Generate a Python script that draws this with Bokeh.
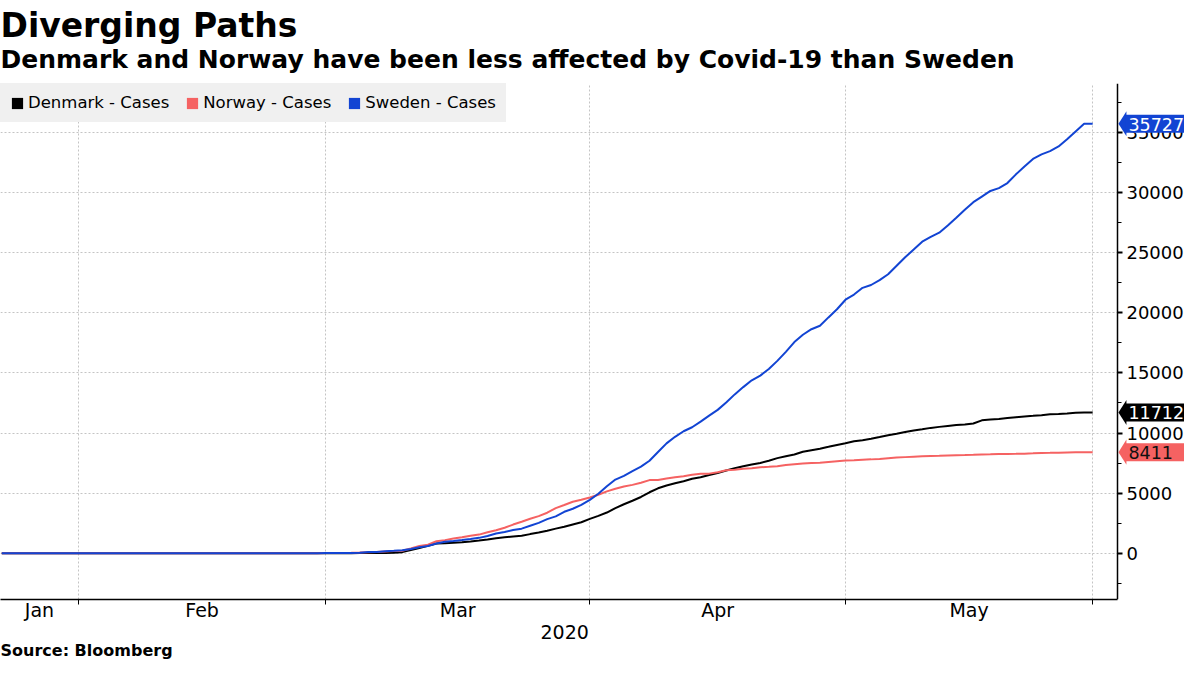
import pandas as pd
from bokeh.plotting import figure
from bokeh.models import (Range1d, FixedTicker, SingleIntervalTicker, Legend, LegendItem,
                          Label, Title, ColumnDataSource, DatetimeTickFormatter,
                          BasicTickFormatter, PolyAnnotation, BoxAnnotation)
from bokeh.embed import file_html
from bokeh.resources import INLINE

# ---------------- data (daily cumulative cases, 2020-01-23 .. 2020-05-30) -------------
start_date = "2020-01-23"
end_date = "2020-05-30"

denmark = [
    0, 0, 0, 0, 0, 0, 0, 0, 0,
    0, 0, 0, 0, 0, 0, 0, 0, 0, 0, 0, 0, 0, 0, 0, 0, 0, 0, 0, 0, 0, 0, 0, 0, 0, 0, 0, 1, 1,
    1, 3, 4, 4, 10, 10, 23, 23, 35, 90, 262, 442, 615, 801, 827, 864, 914, 977, 1057, 1151,
    1255, 1326, 1395, 1450, 1591, 1724, 1877, 2046, 2201, 2395, 2577,
    2860, 3107, 3386, 3757, 4077, 4369, 4681, 5071, 5402, 5635, 5819, 5996, 6191, 6318, 6511,
    6681, 6879, 7073, 7242, 7384, 7515, 7695, 7912, 8073, 8210, 8445, 8575, 8698, 8851, 9008,
    9158, 9311, 9407, 9523, 9670, 9820, 9938, 10083, 10218, 10319, 10429, 10513, 10591, 10667,
    10713, 10791, 11058, 11127, 11168, 11244, 11317, 11382, 11430, 11489, 11560, 11587, 11628,
    11680, 11712, 11712,
]
norway = [
    0, 0, 0, 0, 0, 0, 0, 0, 0,
    0, 0, 0, 0, 0, 0, 0, 0, 0, 0, 0, 0, 0, 0, 0, 0, 0, 0, 0, 0, 0, 0, 0, 0, 0, 0, 1, 1, 6,
    15, 19, 25, 32, 56, 87, 108, 147, 176, 205, 400, 598, 702, 996, 1090, 1221, 1333, 1463,
    1550, 1746, 1914, 2118, 2385, 2621, 2863, 3084, 3369, 3755, 4015, 4284, 4445,
    4641, 4863, 5147, 5370, 5550, 5687, 5865, 6086, 6086, 6211, 6314, 6409, 6525, 6603, 6623,
    6740, 6896, 6937, 7036, 7078, 7156, 7191, 7241, 7338, 7401, 7463, 7499, 7527, 7599, 7660,
    7710, 7738, 7783, 7809, 7847, 7904, 7955, 7996, 8034, 8070, 8099, 8105, 8132, 8157, 8175,
    8196, 8219, 8237, 8257, 8257, 8267, 8281, 8309, 8346, 8352, 8364, 8383, 8401, 8411, 8411,
]
sweden = [
    0, 0, 0, 0, 0, 0, 0, 0, 0,
    1, 1, 1, 1, 1, 1, 1, 1, 1, 1, 1, 1, 1, 1, 1, 1, 1, 1, 1, 1, 1, 1, 1, 1, 1, 1, 2, 7, 7,
    12, 14, 15, 21, 35, 94, 101, 161, 203, 248, 355, 500, 599, 814, 961, 1022, 1103, 1190,
    1279, 1439, 1639, 1763, 1934, 2046, 2286, 2526, 2840, 3069, 3447, 3700, 4028,
    4435, 4947, 5568, 6131, 6443, 6830, 7206, 7693, 8419, 9141, 9685, 10151, 10483, 10948,
    11445, 11927, 12540, 13216, 13822, 14385, 14777, 15322, 16004, 16755, 17567, 18177, 18640,
    18926, 19621, 20302,
    21092, 21520, 22082, 22317, 22721, 23216, 23918, 24623, 25265, 25921, 26322, 26670, 27272,
    27909, 28582, 29207, 29677, 30143, 30377, 30799, 31523, 32172, 32809, 33188, 33459, 33843,
    34440, 35088, 35727, 35727,
]

series_names = ["Denmark - Cases", "Norway - Cases", "Sweden - Cases"]
month_boundaries = ["2020-02-01", "2020-03-01", "2020-04-01", "2020-05-01", "2020-05-30"]
year_label = "2020"

# ---------------- styling -------------------------------------------------------------
DK = "#000000"
NO = "#f56262"
SE = "#1244d3"
GRID = "#c4c4c4"
FONT = "DejaVu Sans"

W, H = 1184, 659


def ms(s):
    return pd.Timestamp(s).value / 1e6


dates = pd.date_range(start_date, end_date, freq="D")
src = ColumnDataSource(dict(date=dates, denmark=denmark, norway=norway, sweden=sweden))

x_start = ms("2020-01-22 20:21")
axis_loc = ms("2020-06-01 21:53")      # where the value axis sits
x_end = ms("2020-06-09 18:40")
y_start, y_end = -3850, 39083

p = figure(width=W, height=H, x_axis_type="datetime", y_axis_location="right",
           x_range=Range1d(x_start, x_end), y_range=Range1d(y_start, y_end),
           output_backend="svg", toolbar_location=None,
           min_border_left=0, min_border_right=0, min_border_top=83, min_border_bottom=0)
p.outline_line_color = None
p.background_fill_color = "white"
p.border_fill_color = "white"

# titles (subtitle first = closest to plot)
p.add_layout(Title(text="Denmark and Norway have been less affected by Covid-19 than Sweden",
                   text_font=FONT, text_font_size="25px", text_font_style="bold",
                   text_color="black", align="left", standoff=20), "above")
p.add_layout(Title(text="Diverging Paths", text_font=FONT, text_font_size="33px",
                   text_font_style="bold", text_color="black", align="left", standoff=-24),
             "above")
# below the time axis: year, then source
p.add_layout(Title(text=year_label, text_font=FONT, text_font_size="19px",
                   text_font_style="normal", text_color="black", align="left",
                   offset=540, standoff=-1), "below")
p.add_layout(Title(text="Source: Bloomberg", text_font=FONT, text_font_size="16px",
                   text_font_style="bold", text_color="black", align="left", standoff=0),
             "below")

# x axis
bounds_ms = [ms(d) for d in month_boundaries]
edges = [x_start] + bounds_ms
mids = [(a + b) / 2 for a, b in zip(edges[:-1], edges[1:])]
xa = p.xaxis[0]
xa.ticker = FixedTicker(ticks=mids, minor_ticks=bounds_ms)
xa.formatter = DatetimeTickFormatter(days="%b", months="%b", years="%b", hours="%b")
xa.bounds = (x_start, axis_loc)
xa.major_tick_line_color = None
xa.major_tick_out = 0
xa.major_tick_in = 0
xa.minor_tick_out = 5
xa.minor_tick_in = 0
xa.minor_tick_line_color = "black"
xa.minor_tick_line_width = 1
xa.axis_line_color = "black"
xa.axis_line_width = 1.5
xa.major_label_text_font = FONT
xa.major_label_text_font_size = "19px"
xa.major_label_text_color = "black"
xa.major_label_standoff = -6

# y axis (right side, fixed at the end of the time axis)
ya = p.yaxis[0]
ya.fixed_location = axis_loc
ya.ticker = SingleIntervalTicker(interval=5000, num_minor_ticks=2)
ya.formatter = BasicTickFormatter(use_scientific=False)
ya.major_tick_out = 5
ya.major_tick_in = 0
ya.major_tick_line_width = 2
ya.minor_tick_out = 4
ya.minor_tick_in = 0
ya.minor_tick_line_color = "black"
ya.axis_line_color = "black"
ya.axis_line_width = 1.5
ya.major_label_text_font = FONT
ya.major_label_text_font_size = "18px"
ya.major_label_text_color = "black"
ya.major_label_standoff = 4

# grids
p.xgrid.ticker = FixedTicker(ticks=bounds_ms)
for g in (p.xgrid[0], p.ygrid[0]):
    g.grid_line_color = GRID
    g.grid_line_dash = "2 2"
    g.grid_line_width = 1
# blank the area right of the value axis (grid lines stop at the axis)
p.add_layout(BoxAnnotation(left=axis_loc, fill_color="white", fill_alpha=1.0,
                           line_color=None, level="underlay"))

# lines
p.line("date", "denmark", source=src, line_color=DK, line_width=2)
p.line("date", "norway", source=src, line_color=NO, line_width=2)
p.line("date", "sweden", source=src, line_color=SE, line_width=2)

# legend with square swatches (zero-area quads on the series, used only as swatches)
items = []
for name, col, key in zip(series_names, [DK, NO, SE], ["denmark", "norway", "sweden"]):
    r = p.quad(left="date", right="date", top=key, bottom=key, source=src,
               fill_color=col, line_color=None)
    items.append(LegendItem(label=name, renderers=[r]))
legend = Legend(items=items, location="top_left", orientation="horizontal",
                background_fill_color="#f0f0f0", background_fill_alpha=1.0,
                border_line_color="#f0f0f0", border_line_alpha=1.0,
                margin=0, padding=9, spacing=16,
                glyph_width=14, glyph_height=14, label_standoff=4,
                label_text_font=FONT, label_text_font_size="16.5px",
                label_text_color="black")
p.add_layout(legend)

# end-value flags next to the value axis
frame_w = float(W)
frame_h = 515.0
ms_per_px = (x_end - x_start) / frame_w
units_per_px = (y_end - y_start) / frame_h
for vals, bg, fg in [(sweden, SE, "white"), (denmark, DK, "white"), (norway, NO, "#111111")]:
    v = vals[-1]
    tip = axis_loc + 1 * ms_per_px
    base = axis_loc + 9 * ms_per_px
    half = 12.5 * units_per_px
    p.add_layout(PolyAnnotation(xs=[tip, base, base], ys=[v, v + half, v - half],
                                fill_color=bg, fill_alpha=1.0, line_color=None))
    p.add_layout(Label(x=axis_loc, y=v, text=str(v), x_offset=8, text_baseline="middle",
                       text_align="left", text_color=fg, text_font=FONT,
                       text_font_size="17.5px", background_fill_color=bg,
                       background_fill_alpha=1.0,
                       padding=dict(left=3, right=40, top=3, bottom=2)))

open("out.html", "w").write(file_html(p, INLINE))
